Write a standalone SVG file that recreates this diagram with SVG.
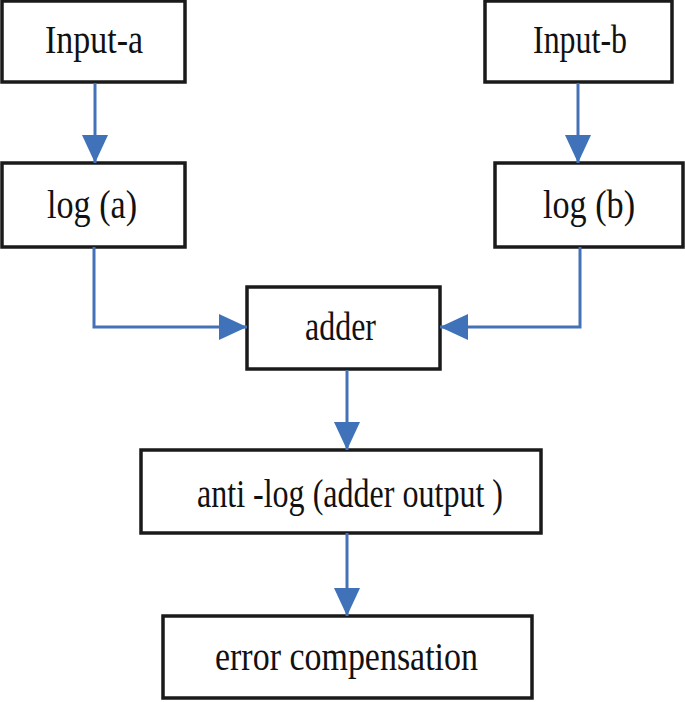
<svg xmlns="http://www.w3.org/2000/svg" width="685" height="702" viewBox="0 0 685 702">
<style>
.box{fill:#fff;stroke:#1a1a1a;stroke-width:3.5}
.lbl{font-family:'Liberation Serif','Times New Roman','DejaVu Serif',serif;font-size:39px;fill:#111}
.con{fill:none;stroke:#4472b8;stroke-width:3}
</style>
<defs>
<marker id="ah" markerUnits="userSpaceOnUse" markerWidth="28" markerHeight="26" refX="28" refY="13" orient="auto">
<path d="M0,0 L28,13 L0,26 z" fill="#3f72b9"/>
</marker>
</defs>
<rect width="685" height="702" fill="#fff"/>
<g id="input-a"><rect class="box" x="2" y="1" width="183" height="81"/><text class="lbl" font-family="Liberation Serif, serif" x="45" y="53" textLength="98" lengthAdjust="spacingAndGlyphs">Input-a</text></g>
<g id="input-b"><rect class="box" x="485" y="1" width="187" height="81"/><text class="lbl" font-family="Liberation Serif, serif" x="533" y="53" textLength="94" lengthAdjust="spacingAndGlyphs">Input-b</text></g>
<g id="log-a"><rect class="box" x="2" y="163" width="183" height="84"/><text class="lbl" font-family="Liberation Serif, serif" x="47" y="218" textLength="90" lengthAdjust="spacingAndGlyphs">log (a)</text></g>
<g id="log-b"><rect class="box" x="495" y="163" width="188" height="84"/><text class="lbl" font-family="Liberation Serif, serif" x="543" y="218" textLength="92" lengthAdjust="spacingAndGlyphs">log (b)</text></g>
<g id="adder"><rect class="box" x="247" y="287" width="193" height="82"/><text class="lbl" font-family="Liberation Serif, serif" x="305" y="340" textLength="71" lengthAdjust="spacingAndGlyphs">adder</text></g>
<g id="antilog"><rect class="box" x="141" y="450" width="400" height="83"/><text class="lbl" font-family="Liberation Serif, serif" x="197" y="507" textLength="306" lengthAdjust="spacingAndGlyphs">anti -log (adder output )</text></g>
<g id="error"><rect class="box" x="163" y="616" width="369" height="82"/><text class="lbl" font-family="Liberation Serif, serif" x="215" y="670" textLength="263" lengthAdjust="spacingAndGlyphs">error compensation</text></g>
<g id="connectors">
<path class="con" d="M95,83 V163" marker-end="url(#ah)"/>
<path class="con" d="M578,83 V163" marker-end="url(#ah)"/>
<path class="con" d="M94,247 V327 H247" marker-end="url(#ah)"/>
<path class="con" d="M580,247 V327 H440" marker-end="url(#ah)"/>
<path class="con" d="M347,370 V450" marker-end="url(#ah)"/>
<path class="con" d="M347,533 V616" marker-end="url(#ah)"/>
</g>
</svg>
